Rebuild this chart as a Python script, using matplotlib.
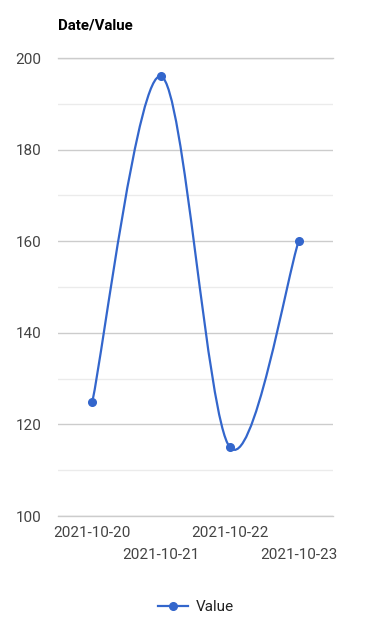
import matplotlib.pyplot as plt
import numpy as np
from matplotlib.path import Path
from matplotlib.patches import PathPatch
from matplotlib.lines import Line2D

plt.rcParams['font.family'] = ['Roboto', 'DejaVu Sans']

dates = ['2021-10-20', '2021-10-21', '2021-10-22', '2021-10-23']
values = [125, 196, 115, 160]
color = '#3366cc'

fig = plt.figure(figsize=(3.92, 6.3), dpi=100)
ax = fig.add_axes([58 / 392, 1 - 516 / 630, 275 / 392, 458 / 630])

# courbe lissée (Catmull-Rom -> Bézier)
x = np.arange(len(values), dtype=float)
y = np.array(values, dtype=float)
verts = [(x[0], y[0])]
codes = [Path.MOVETO]
n = len(x)
for i in range(n - 1):
    p0 = np.array([x[max(i - 1, 0)], y[max(i - 1, 0)]])
    p1 = np.array([x[i], y[i]])
    p2 = np.array([x[i + 1], y[i + 1]])
    p3 = np.array([x[min(i + 2, n - 1)], y[min(i + 2, n - 1)]])
    c1 = p1 + (p2 - p0) / 6
    c2 = p2 - (p3 - p1) / 6
    verts += [tuple(c1), tuple(c2), tuple(p2)]
    codes += [Path.CURVE4] * 3
ax.add_patch(PathPatch(Path(verts, codes), fill=False, edgecolor=color, lw=1.6, zorder=3))
ax.plot(x, y, 'o', color=color, markersize=5.5, zorder=4)

ax.set_xlim(-0.5, 3.5)
ax.set_ylim(100, 200)
ax.set_yticks(range(100, 201, 20))
ax.set_yticks(range(110, 200, 20), minor=True)
ax.grid(axis='y', which='major', color='#cccccc', lw=1)
ax.grid(axis='y', which='minor', color='#ebebeb', lw=1)
ax.axhline(100, color='#cccccc', lw=1, clip_on=False, zorder=1)
ax.axhline(200, color='#cccccc', lw=1, clip_on=False, zorder=1)
ax.set_axisbelow(True)
for s in ax.spines.values():
    s.set_visible(False)
ax.tick_params(axis='y', which='both', length=0, labelsize=11, labelcolor='#444444', pad=12)
ax.set_xticks(x)
ax.set_xticklabels(dates)
ax.tick_params(axis='x', length=0, labelsize=11, labelcolor='#444444', pad=7)
for t in ax.xaxis.get_major_ticks()[1::2]:
    t.set_pad(23)

fig.text(58 / 392, 1 - 25 / 630, 'Date/Value', fontsize=10.8, fontweight='bold', va='center', color='#000000')

h = Line2D([], [], color=color, lw=1.6, marker='o', markersize=5.5)
fig.legend([h], ['Value'], loc='center', bbox_to_anchor=(0.5, 1 - 607 / 630), frameon=False,
           fontsize=11, labelcolor='#222222', handlelength=2.0, handletextpad=0.5)

fig.savefig('out.png', dpi=100)
